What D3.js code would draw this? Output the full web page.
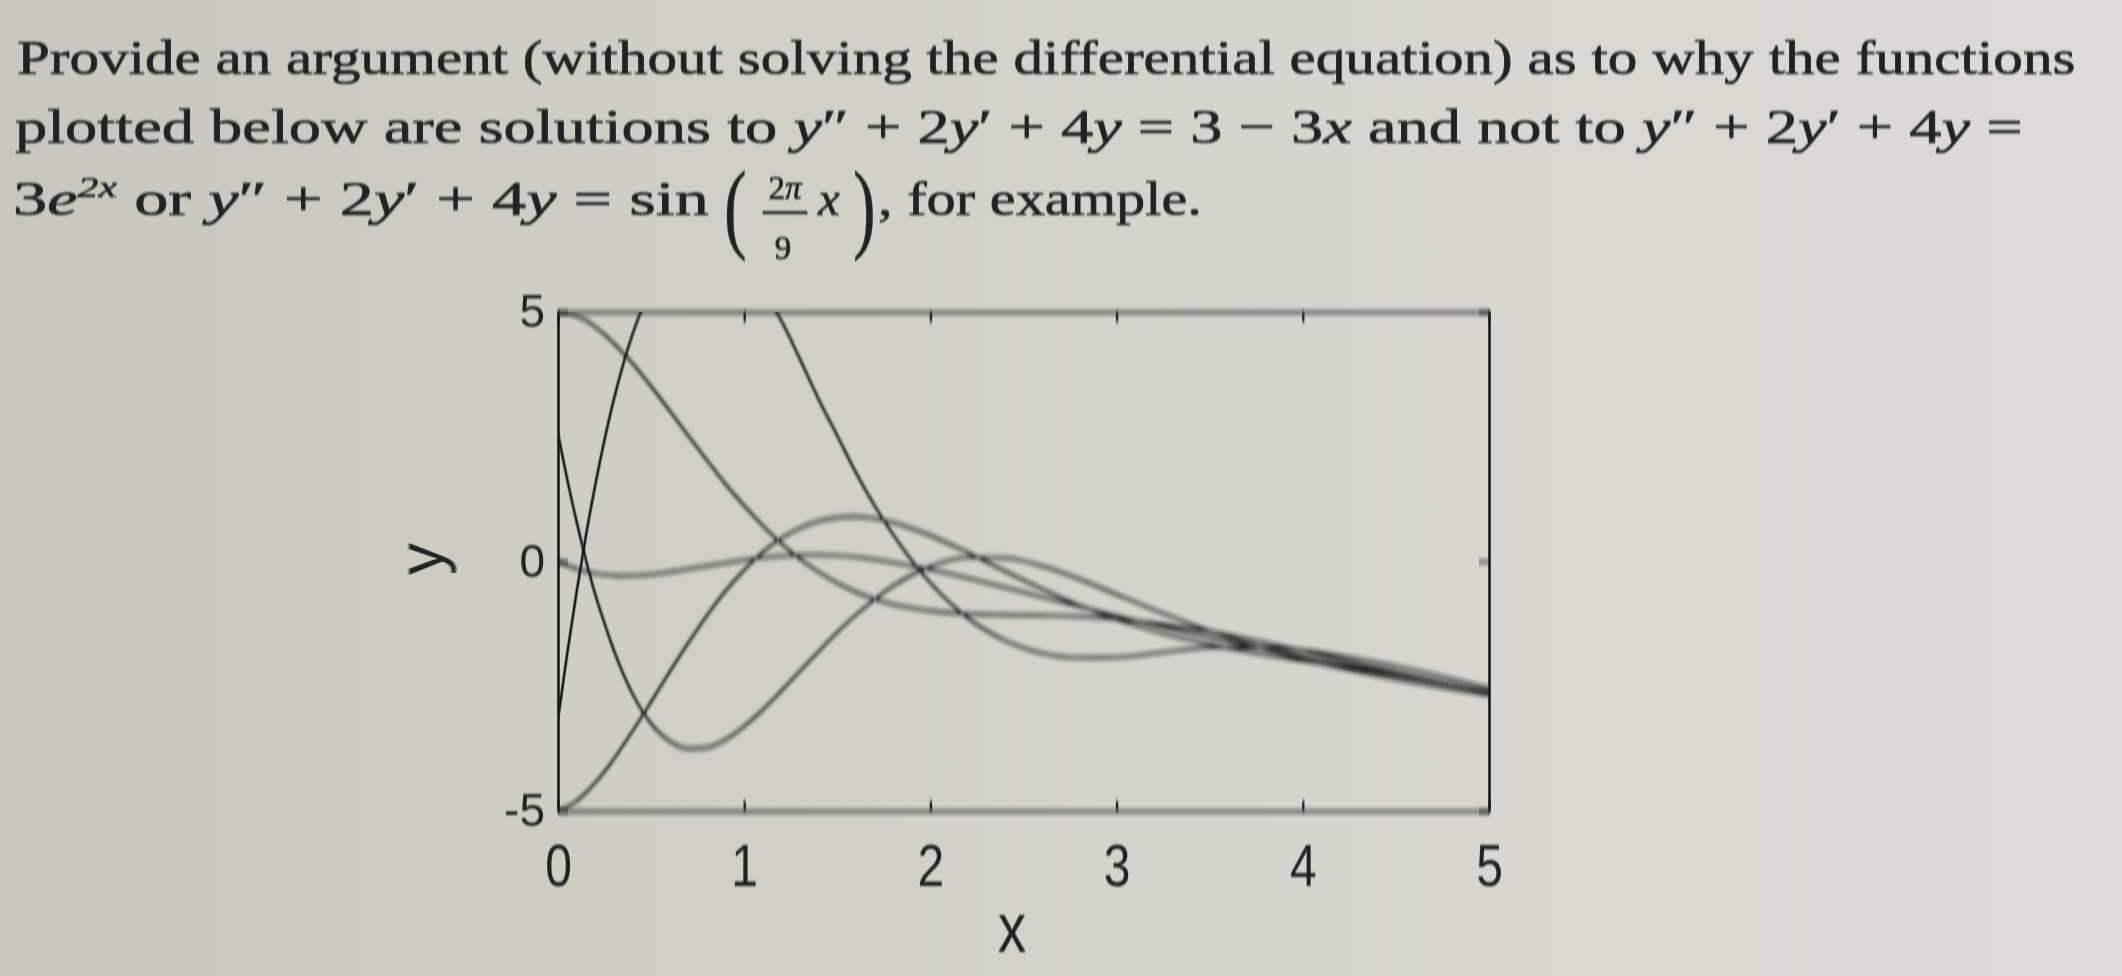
<!DOCTYPE html>
<html>
<head>
<meta charset="utf-8">
<script src="https://cdn.jsdelivr.net/npm/d3@7"></script>
<style>
  body { margin: 0; overflow: hidden; background: #d2d2cb; }
</style>
</head>
<body>
<script>
// sample positions shared by every plotted solution
const xs = [0, 0.05, 0.1, 0.15, 0.2, 0.25, 0.3, 0.35, 0.4, 0.5, 0.6, 0.7, 0.8, 0.9, 1.0,
  1.1, 1.2, 1.3, 1.4, 1.5, 1.6, 1.7, 1.8, 1.9, 2.0, 2.2, 2.4, 2.6, 2.8, 3.0, 3.25, 3.5,
  3.75, 4.0, 4.5, 5.0];

// values (the steep one leaves the box above y = 5)
const solTop = [5.00, 4.98, 4.92, 4.83, 4.70, 4.55, 4.37, 4.18, 3.97, 3.51, 3.02, 2.52, 2.03,
  1.55, 1.12, 0.72, 0.36, 0.05, -0.21, -0.43, -0.61, -0.75, -0.86, -0.93, -0.99, -1.05,
  -1.07, -1.08, -1.10, -1.15, -1.26, -1.40, -1.59, -1.79, -2.22, -2.63];
const solUpper = [2.57, 1.64, 0.80, 0.03, -0.66, -1.24, -1.78, -2.25, -2.65, -3.25, -3.60,
  -3.75, -3.73, -3.57, -3.30, -2.97, -2.59, -2.19, -1.80, -1.42, -1.07, -0.76, -0.49, -0.27,
  -0.10, 0.08, 0.07, -0.09, -0.35, -0.66, -1.04, -1.39, -1.70, -1.96, -2.36, -2.68];
const solZero = [0.00, -0.08, -0.15, -0.20, -0.24, -0.26, -0.28, -0.29, -0.28, -0.26, -0.21,
  -0.15, -0.09, -0.03, 0.03, 0.08, 0.11, 0.13, 0.13, 0.12, 0.09, 0.04, -0.02, -0.09, -0.16,
  -0.33, -0.52, -0.71, -0.90, -1.09, -1.31, -1.52, -1.72, -1.90, -2.26, -2.62];
const solSteep = [-3.16, -1.83, -0.61, 0.52, 1.53, 2.44, 3.25, 3.95, 4.55, 5.47, 6.05, 6.30,
  6.30, 6.15, 5.90, 5.45, 4.82, 4.05, 3.25, 2.52, 1.78, 1.12, 0.54, 0.02, -0.43, -1.13,
  -1.58, -1.84, -1.93, -1.92, -1.82, -1.72, -1.72, -1.78, -2.10, -2.54];
const solBottom = [-5.00, -4.92, -4.80, -4.63, -4.43, -4.21, -3.96, -3.68, -3.40, -2.81,
  -2.21, -1.63, -1.08, -0.59, -0.17, 0.19, 0.47, 0.67, 0.81, 0.88, 0.90, 0.86, 0.78, 0.66,
  0.52, 0.18, -0.19, -0.55, -0.88, -1.16, -1.44, -1.66, -1.84, -1.99, -2.28, -2.61];

const xTicks = [0, 1, 2, 3, 4, 5];
const yTicks = [-5, 0, 5];

const W = 2122, H = 976;
const svg = d3.select("body").append("svg").attr("width", W).attr("height", H);
const defs = svg.append("defs");

// paper: a little darker on the left of the photo
const paper = defs.append("linearGradient").attr("id", "paper")
  .attr("x1", 0).attr("x2", 1).attr("y1", 0).attr("y2", 0);
[["0%", "#c7c7c0"], ["40%", "#d1d1ca"], ["100%", "#dddbd7"]]
  .forEach(s => paper.append("stop").attr("offset", s[0]).attr("stop-color", s[1]));

// camera shake: lines smear up and down, so flat strokes look grey and thick.
// regions are huge because they are read in each element's own (translated) frame
function blurFilter(id, dev) {
  defs.append("filter").attr("id", id).attr("filterUnits", "userSpaceOnUse")
    .attr("x", -3 * W).attr("y", -3 * H).attr("width", 7 * W).attr("height", 7 * H)
    .append("feGaussianBlur").attr("stdDeviation", dev);
}
blurFilter("smear", "0.5 2.6");
blurFilter("soft", "0.6 0.9");

svg.append("rect").attr("width", W).attr("height", H).attr("fill", "url(#paper)");

// ---- the question text ----
const serif = "'Liberation Serif', 'Times New Roman', serif";
const ink = "#232323";
const txt = svg.append("g").attr("filter", "url(#soft)")
  .attr("fill", ink).attr("stroke", ink).attr("stroke-width", 0.7)
  .style("font-family", serif).style("font-size", "49px");

// segments: [string, italic, shift(px, + is up), size]
function fitLine(segs, x0, x1, base) {
  const t = txt.append("text").attr("x", 0).attr("y", 0);
  let lift = 0;
  segs.forEach(s => {
    const sp = t.append("tspan").text(s[0]);
    if (s[1]) sp.style("font-style", "italic");
    const up = s[2] || 0;
    if (up !== lift) { sp.attr("dy", lift - up); lift = up; }
    if (s[3]) sp.style("font-size", s[3] + "px");
  });
  const w = t.node().getComputedTextLength();
  t.attr("transform", `translate(${x0},${base}) scale(${(x1 - x0) / w},1)`);
  return t;
}

fitLine([["Provide an argument (without solving the differential equation) as to why the functions"]],
  17, 2076, 74);

fitLine([["plotted below are solutions to "], ["y", 1], ["\u2033 + 2"], ["y", 1], ["\u2032 + 4"],
  ["y", 1], [" = 3 \u2212 3"], ["x", 1], [" and not to "], ["y", 1], ["\u2033 + 2"], ["y", 1],
  ["\u2032 + 4"], ["y", 1], [" ="]], 15, 2023, 143);

fitLine([["3"], ["e", 1], ["2x", 1, 18, 30], [" or ", 0, 0], ["y", 1], ["\u2033 + 2"], ["y", 1],
  ["\u2032 + 4"], ["y", 1], [" = sin"]], 13, 709, 215);

// big parentheses and the 2π/9 fraction
txt.append("text").attr("transform", "translate(724,240) scale(0.68,1)")
  .style("font-size", "100px").attr("stroke-width", 0.4).text("(");
txt.append("text").attr("x", 785).attr("y", 199).attr("text-anchor", "middle")
  .style("font-size", "33px")
  .call(t => { t.append("tspan").text("2"); t.append("tspan").style("font-style", "italic").text("\u03c0"); });
txt.append("rect").attr("x", 763).attr("y", 211.5).attr("width", 44).attr("height", 2.4);
txt.append("text").attr("x", 783).attr("y", 259).attr("text-anchor", "middle")
  .style("font-size", "33px").text("9");
txt.append("text").attr("x", 818).attr("y", 215).style("font-style", "italic").text("x");
txt.append("text").attr("transform", "translate(853,240) scale(0.68,1)")
  .style("font-size", "100px").attr("stroke-width", 0.4).text(")");
fitLine([[", for example."]], 878, 1202, 215);

// ---- the plot ----
const x = d3.scaleLinear().domain([0, 5]).range([558, 1489]);
const y = d3.scaleLinear().domain([-5, 5]).range([811, 312]);
const sans = "'Liberation Sans', Arial, sans-serif";
const lineInk = "#181818";
const plain = d => String(d);

defs.append("clipPath").attr("id", "box").append("rect")
  .attr("x", x(0)).attr("y", y(5)).attr("width", x(5) - x(0)).attr("height", y(-5) - y(5));

const plot = svg.append("g").attr("clip-path", "url(#box)")
  .append("g").attr("filter", "url(#smear)");

const line = d3.line()
  .x((d, i) => x(xs[i]))
  .y(d => y(d))
  .curve(d3.curveMonotoneX);

plot.selectAll("path.sol")
  .data([solTop, solUpper, solZero, solSteep, solBottom])
  .join("path")
    .attr("class", "sol")
    .attr("d", line)
    .attr("fill", "none")
    .attr("stroke", lineInk)
    .attr("stroke-width", 2.6);

function styleAxis(g, size) {
  g.select(".domain").attr("stroke", lineInk).attr("stroke-width", 2.6).attr("filter", "url(#smear)");
  g.selectAll(".tick line").attr("stroke", lineInk).attr("stroke-width", 2.4).attr("filter", "url(#smear)");
  g.selectAll(".tick text").attr("fill", "#222").attr("filter", "url(#soft)")
    .style("font-family", sans).style("font-size", size + "px");
}

// x tick digits in the photo are drawn a bit taller than wide
svg.append("g")
  .attr("transform", `translate(0,${y(-5)})`)
  .call(d3.axisBottom(x).tickValues(xTicks).tickFormat(plain)
    .tickSizeInner(-10).tickSizeOuter(0).tickPadding(27))
  .call(g => styleAxis(g, 50))
  .call(g => g.selectAll(".tick text").attr("transform", "scale(0.96,1.2)"));

svg.append("g")
  .attr("transform", `translate(0,${y(5)})`)
  .call(d3.axisTop(x).tickValues(xTicks).tickSizeInner(-10).tickSizeOuter(0).tickFormat(() => ""))
  .call(g => styleAxis(g, 10));

svg.append("g")
  .attr("transform", `translate(${x(0)},0)`)
  .call(d3.axisLeft(y).tickValues(yTicks).tickFormat(plain)
    .tickSizeInner(-10).tickSizeOuter(0).tickPadding(13))
  .call(g => styleAxis(g, 46));

svg.append("g")
  .attr("transform", `translate(${x(5)},0)`)
  .call(d3.axisRight(y).tickValues(yTicks).tickSizeInner(-10).tickSizeOuter(0).tickFormat(() => ""))
  .call(g => styleAxis(g, 10));

// axis labels
svg.append("text")
  .attr("transform", "translate(433,559) rotate(-90)")
  .attr("text-anchor", "middle")
  .attr("dy", "0.155em")
  .attr("fill", "#222").attr("filter", "url(#soft)")
  .style("font-family", sans).style("font-size", "64px")
  .text("y");

svg.append("text")
  .attr("transform", "translate(1012,952) scale(0.92,1.15)")
  .attr("text-anchor", "middle")
  .attr("fill", "#222").attr("filter", "url(#soft)")
  .style("font-family", sans).style("font-size", "62px")
  .text("x");
</script>
</body>
</html>
